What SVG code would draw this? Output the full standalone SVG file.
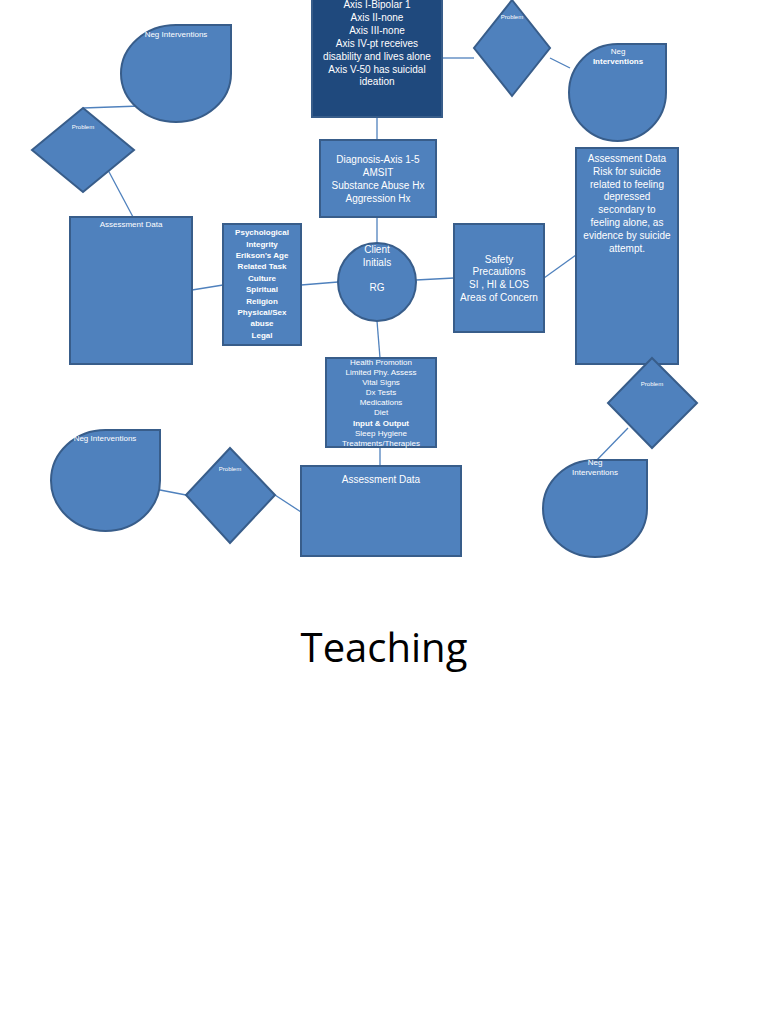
<svg xmlns="http://www.w3.org/2000/svg" width="768" height="1024" viewBox="0 0 768 1024">
<style>
.s{fill:#4F81BD;stroke:#385D8A;stroke-width:2}
.d{fill:#1F497D;stroke:#385D8A;stroke-width:2}
.c line{stroke:#4F81BD;stroke-width:1.3}
text{font-family:"Liberation Sans",Arial,sans-serif;fill:#fff;text-anchor:middle}
.t{font-size:10px}.x{font-size:8px}.y{font-size:6px}.b{font-weight:bold}
</style>
<rect width="768" height="1024" fill="#fff"/>
<g class="c">
<line x1="83" y1="108" x2="140" y2="106"/>
<line x1="108" y1="170" x2="133" y2="217"/>
<line x1="192" y1="290" x2="223" y2="285"/>
<line x1="301" y1="285" x2="338" y2="282"/>
<line x1="416" y1="280" x2="454" y2="278"/>
<line x1="544" y1="278" x2="576" y2="255"/>
<line x1="377" y1="217" x2="377" y2="243"/>
<line x1="377" y1="117" x2="377" y2="140"/>
<line x1="442" y1="58" x2="474" y2="58"/>
<line x1="550" y1="58" x2="570" y2="68"/>
<line x1="377" y1="321" x2="380" y2="358"/>
<line x1="380" y1="447" x2="380" y2="466"/>
<line x1="275" y1="495" x2="301" y2="512"/>
<line x1="160" y1="490" x2="186" y2="495"/>
<line x1="628" y1="428" x2="595" y2="462"/>
</g>
<g id="axis"><rect class="d" x="312" y="-2" width="130" height="119"/>
<text class="t" x="377" y="8">Axis I-Bipolar 1</text><text class="t" x="377" y="21">Axis II-none</text><text class="t" x="377" y="34">Axis III-none</text><text class="t" x="377" y="47">Axis IV-pt receives</text><text class="t" x="377" y="60">disability and lives alone</text><text class="t" x="377" y="73">Axis V-50 has suicidal</text><text class="t" x="377" y="85">ideation</text></g>
<g id="diag"><rect class="s" x="320" y="140" width="116" height="77"/>
<text class="t" x="378" y="163">Diagnosis-Axis 1-5</text><text class="t" x="378" y="176">AMSIT</text><text class="t" x="378" y="189">Substance Abuse Hx</text><text class="t" x="378" y="202">Aggression Hx</text></g>
<g id="client"><circle class="s" cx="377" cy="282" r="39"/>
<text class="t" x="377" y="253">Client</text><text class="t" x="377" y="266">Initials</text><text class="t" x="377" y="291">RG</text></g>
<g id="psych"><rect class="s" x="223" y="224" width="78" height="121"/>
<g class="x b"><text x="262" y="235">Psychological</text><text x="262" y="247">Integrity</text><text x="262" y="258">Erikson's Age</text><text x="262" y="269">Related Task</text><text x="262" y="281">Culture</text><text x="262" y="292">Spiritual</text><text x="262" y="304">Religion</text><text x="262" y="315">Physical/Sex</text><text x="262" y="326">abuse</text><text x="262" y="338">Legal</text></g></g>
<g id="safety"><rect class="s" x="454" y="224" width="90" height="108"/>
<text class="t" x="499" y="263">Safety</text><text class="t" x="499" y="275">Precautions</text><text class="t" x="499" y="288">SI , HI  &amp; LOS</text><text class="t" x="499" y="301">Areas of Concern</text></g>
<g id="health"><rect class="s" x="326" y="358" width="110" height="89"/>
<g class="x"><text x="381" y="365">Health Promotion</text><text x="381" y="375">Limited Phy. Assess</text><text x="381" y="385">Vital Signs</text><text x="381" y="395">Dx Tests</text><text x="381" y="405">Medications</text><text x="381" y="415">Diet</text><text x="381" y="426" class="b">Input &amp; Output</text><text x="381" y="436">Sleep Hygiene</text><text x="381" y="446">Treatments/Therapies</text></g></g>
<g id="assessL"><rect class="s" x="70" y="217" width="122" height="147"/><text class="x" x="131" y="227">Assessment Data</text></g>
<g id="assessR"><rect class="s" x="576" y="148" width="102" height="216"/>
<g class="t" font-size="9"><text x="627" y="162">Assessment Data</text><text x="627" y="175">Risk for suicide</text><text x="627" y="188">related to feeling</text><text x="627" y="200">depressed</text><text x="627" y="213">secondary to</text><text x="627" y="226">feeling alone, as</text><text x="627" y="239">evidence by suicide</text><text x="627" y="252">attempt.</text></g></g>
<g id="assessB"><rect class="s" x="301" y="466" width="160" height="90"/><text class="t" x="381" y="483">Assessment Data</text></g>
<g id="probTL"><polygon class="s" points="83,108 134,150 83,192 32,150"/><text class="y" x="83" y="129">Problem</text></g>
<g id="probT"><polygon class="s" points="512,0 550,48 512,96 474,48"/><text class="y" x="512" y="19">Problem</text></g>
<g id="probR"><polygon class="s" points="652,358 697,403 652,448 608,403"/><text class="y" x="652" y="386">Problem</text></g>
<g id="probB"><polygon class="s" points="230,448 275,495 230,543 186,495"/><text class="y" x="230" y="471">Problem</text></g>
<g id="negTL"><path class="s" d="M176,25H231V73.5A55,48.5 0 0 1 176,122A55,48.5 0 0 1 121,73.5A55,48.5 0 0 1 176,25Z"/><text class="x" x="176" y="37">Neg Interventions</text></g>
<g id="negR"><path class="s" d="M617.5,44H666V92.5A48.5,48.5 0 0 1 617.5,141A48.5,48.5 0 0 1 569,92.5A48.5,48.5 0 0 1 617.5,44Z"/><text class="x" x="618" y="54">Neg</text><text class="x b" x="618" y="64">Interventions</text></g>
<g id="negBL"><path class="s" d="M105.5,430H160V480.5A54.5,50.5 0 0 1 105.5,531A54.5,50.5 0 0 1 51,480.5A54.5,50.5 0 0 1 105.5,430Z"/><text class="x" x="105" y="441">Neg Interventions</text></g>
<g id="negBR"><path class="s" d="M595,460H647V508.5A52,48.5 0 0 1 595,557A52,48.5 0 0 1 543,508.5A52,48.5 0 0 1 595,460Z"/><text class="x" x="595" y="465">Neg</text><text class="x" x="595" y="475">Interventions</text></g>
<text x="384" y="662" style="fill:#000;font-size:40px;font-family:'Open Sans','Liberation Sans',sans-serif">Teaching</text>
</svg>
